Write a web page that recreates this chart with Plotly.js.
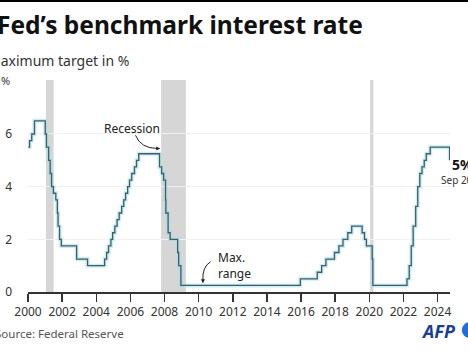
<!DOCTYPE html>
<html>
<head>
<meta charset="utf-8">
<script src="https://cdn.plot.ly/plotly-3.0.1.min.js"></script>
<style>
html,body{margin:0;padding:0;background:#fff;overflow:hidden;}
#chart{width:468px;height:351px;}
</style>
</head>
<body>
<div id="chart"></div>
<script>
// Fed funds target (upper bound), decimal year of change
const dates = [2000.02,2000.09,2000.22,2000.38,2001.01,2001.08,2001.21,2001.30,2001.38,2001.49,2001.63,2001.72,2001.76,2001.85,2001.95,
  2002.85,2003.49,2004.49,2004.61,2004.72,2004.86,2004.96,2005.09,2005.22,2005.34,2005.49,2005.61,2005.72,2005.84,2005.95,
  2006.08,2006.24,2006.36,2006.49,2007.71,2007.83,2007.95,2008.06,2008.08,2008.21,2008.33,2008.77,2008.83,2008.96,
  2015.96,2016.95,2017.21,2017.46,2017.96,2018.22,2018.46,2018.74,2018.97,2019.58,2019.72,2019.83,2020.17,2020.21,
  2022.21,2022.34,2022.46,2022.57,2022.72,2022.84,2022.96,2023.09,2023.22,2023.34,2023.57,2024.71];
const rates = [5.5,5.75,6.0,6.5,6.0,5.5,5.0,4.5,4.0,3.75,3.5,3.0,2.5,2.0,1.75,
  1.25,1.0,1.25,1.5,1.75,2.0,2.25,2.5,2.75,3.0,3.25,3.5,3.75,4.0,4.25,
  4.5,4.75,5.0,5.25,4.75,4.5,4.25,3.5,3.0,2.25,2.0,1.5,1.0,0.25,
  0.5,0.75,1.0,1.25,1.5,1.75,2.0,2.25,2.5,2.25,2.0,1.75,1.25,0.25,
  0.5,1.0,1.75,2.5,3.25,4.0,4.5,4.75,5.0,5.25,5.5,5.0];
const recessionStarts = [2001.05, 2007.8, 2020.05];
const recessionEnds   = [2001.5, 2009.25, 2020.24];
const xTicks = [2000,2002,2004,2006,2008,2010,2012,2014,2016,2018,2020,2022,2024];
const yTicks = [0,2,4,6];

const FONT = '"Noto Sans", "Open Sans", sans-serif';

const traces = [
  {x: dates, y: rates, type: 'scatter', mode: 'lines', line: {shape: 'hv', color: 'rgba(160,220,230,0.55)', width: 4}, hoverinfo: 'skip'},
  {x: dates, y: rates, type: 'scatter', mode: 'lines', line: {shape: 'hv', color: '#3d5e6b', width: 1.3}}
];

const shapes = recessionStarts.map((s, i) => ({
  type: 'rect', xref: 'x', yref: 'paper', x0: s, x1: recessionEnds[i], y0: 0, y1: 1,
  fillcolor: '#d6d6d6', line: {width: 0}, layer: 'below'
}));
// top black bar
shapes.push({type: 'rect', xref: 'paper', yref: 'paper', x0: -0.1, x1: 1.1, y0: 1.368, y1: 1.40, fillcolor: '#000', line: {width: 0}});
// curved arrow paths
shapes.push({type: 'path', xref: 'x', yref: 'y', path: 'M 2006.3,5.95 Q 2006.6,5.45 2007.6,5.45', line: {color: '#222', width: 1}});
shapes.push({type: 'path', xref: 'x', yref: 'y', path: 'M 2010.7,1.15 Q 2010.2,0.95 2010.25,0.45', line: {color: '#222', width: 1}});
// AFP circle
shapes.push({type: 'circle', xref: 'paper', yref: 'paper', x0: 1.028, x1: 1.066, y0: -0.217, y1: -0.142, fillcolor: '#1e6fd9', line: {width: 0}});

const annotations = [
  {xref: 'paper', yref: 'paper', x: -0.078, y: 1.262, xanchor: 'left', yanchor: 'middle', showarrow: false,
   text: '<b>Fed’s benchmark interest rate</b>', font: {family: FONT, size: 24.5, color: '#111'}},
  {xref: 'paper', yref: 'paper', x: -0.1, y: 1.092, xanchor: 'left', yanchor: 'middle', showarrow: false,
   text: 'Maximum target in %', font: {family: FONT, size: 14, color: '#333'}},
  {xref: 'paper', yref: 'paper', x: -0.068, y: 1.0, xanchor: 'left', yanchor: 'middle', showarrow: false,
   text: '%', font: {family: FONT, size: 11, color: '#333'}},
  {xref: 'paper', yref: 'paper', x: -0.083, y: -0.195, xanchor: 'left', yanchor: 'middle', showarrow: false,
   text: 'Source: Federal Reserve', font: {family: FONT, size: 11.5, color: '#555'}},
  {xref: 'x', yref: 'y', x: 2006.1, y: 6.2, xanchor: 'center', yanchor: 'middle', showarrow: false,
   text: 'Recession', font: {family: FONT, size: 12, color: '#222'}},
  {xref: 'x', yref: 'y', x: 2007.75, y: 5.45, ax: -4, ay: 0, showarrow: true, arrowhead: 2, arrowsize: 0.8, arrowwidth: 1, arrowcolor: '#222', text: ''},
  {xref: 'x', yref: 'y', x: 2010.25, y: 0.33, ax: 0, ay: -4, showarrow: true, arrowhead: 2, arrowsize: 0.8, arrowwidth: 1, arrowcolor: '#222', text: ''},
  {xref: 'x', yref: 'y', x: 2011.0, y: 1.0, xanchor: 'left', yanchor: 'middle', showarrow: false, align: 'left',
   text: 'Max.<br>range', font: {family: FONT, size: 12, color: '#222'}},
  {xref: 'paper', yref: 'paper', x: 1.03, y: 0.603, xanchor: 'center', yanchor: 'middle', showarrow: false,
   text: '<b>5%</b>', font: {family: FONT, size: 14, color: '#111'}},
  {xref: 'paper', yref: 'paper', x: 1.03, y: 0.53, xanchor: 'center', yanchor: 'middle', showarrow: false,
   text: 'Sep 2024', font: {family: FONT, size: 10, color: '#333'}},
  {xref: 'paper', yref: 'paper', x: 1.018, y: -0.183, xanchor: 'right', yanchor: 'middle', showarrow: false,
   text: '<b><i>AFP</i></b>', font: {family: FONT, size: 18, color: '#1b3f94'}}
];

const layout = {
  width: 468, height: 351,
  margin: {l: 28, r: 18, t: 80, b: 59},
  paper_bgcolor: '#fff', plot_bgcolor: '#fff',
  showlegend: false,
  font: {family: FONT, size: 12, color: '#333'},
  xaxis: {
    range: [2000, 2024.73], tickmode: 'array', tickvals: xTicks, ticktext: xTicks.map(String),
    showgrid: false, zeroline: false, showline: true, linecolor: '#333', linewidth: 1.5,
    ticks: 'outside', ticklen: 8, tickwidth: 1.5, tickcolor: '#333',
    tickfont: {family: FONT, size: 12, color: '#333'}
  },
  yaxis: {
    range: [0, 8.05], tickmode: 'array', tickvals: yTicks, ticktext: yTicks.map(String),
    showgrid: true, gridcolor: '#f1f1f1', gridwidth: 1, zeroline: false, showline: false,
    ticks: '', ticklabelstandoff: 15,
    tickfont: {family: FONT, size: 12, color: '#333'}
  },
  shapes: shapes,
  annotations: annotations
};

Plotly.newPlot('chart', traces, layout, {displayModeBar: false, staticPlot: true});
</script>
</body>
</html>
